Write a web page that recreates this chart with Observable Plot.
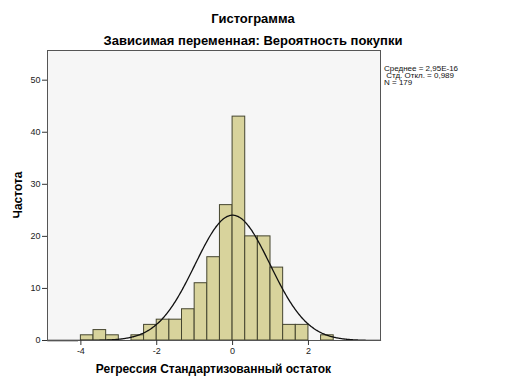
<!DOCTYPE html>
<html>
<head>
<meta charset="utf-8">
<script src="https://cdn.jsdelivr.net/npm/d3@7"></script>
<script src="https://cdn.jsdelivr.net/npm/@observablehq/plot@0.6"></script>
<style>
  html, body { margin: 0; padding: 0; background: #fff; }
  body { width: 507px; height: 386px; position: relative; overflow: hidden;
         font-family: "Liberation Sans", Arial, sans-serif; color: #000; }
  .t { position: absolute; white-space: nowrap; font-weight: bold; }
  #title { left: 253px; top: 17.5px; transform: translate(-50%, -50%); font-size: 13px; }
  #subtitle { left: 253px; top: 40px; transform: translate(-50%, -50%); font-size: 13px; }
  #ylab { left: 18px; top: 195px; transform: translate(-50%, -50%) rotate(-90deg); font-size: 12px; }
  #xlab { left: 213.5px; top: 369px; transform: translate(-50%, -50%); font-size: 12px; }
  #stats { position: absolute; left: 384px; top: 65px; font-size: 8px; line-height: 7.2px; color: #111; white-space: pre; }
  #chart { position: absolute; left: 0; top: 46px; }
</style>
</head>
<body>
<div id="title" class="t"></div>
<div id="subtitle" class="t"></div>
<div id="ylab" class="t"></div>
<div id="xlab" class="t"></div>
<div id="stats"></div>
<div id="chart"></div>
<script>
// ---- data ----
const titleText = "Гистограмма";
const subtitleText = "Зависимая переменная: Вероятность покупки";
const xLabel = "Регрессия Стандартизованный остаток";
const yLabel = "Частота";
const statLines = ["Среднее = 2,95E-16", " Стд. Откл. = 0,989", "N = 179"];

const binStart = -4;
const binWidth = 1 / 3;
const counts = [1, 2, 1, 0, 1, 3, 4, 4, 6, 11, 16, 26, 43, 20, 20, 14, 3, 3, 0, 1];
const xTicks = [-4, -2, 0, 2];
const yTicks = [0, 10, 20, 30, 40, 50];
const meanVal = 2.95e-16;
const sdVal = 0.989;
const nVal = 179;
const xDomain = [-4.88, 3.9];
const yDomain = [0, 55.7];

// ---- text ----
document.getElementById("title").textContent = titleText;
document.getElementById("subtitle").textContent = subtitleText;
document.getElementById("xlab").textContent = xLabel;
document.getElementById("ylab").textContent = yLabel;
document.getElementById("stats").textContent = statLines.join("\n");

// ---- derived tables ----
const bins = counts.map((c, i) => ({
  x1: binStart + i * binWidth,
  x2: binStart + (i + 1) * binWidth,
  count: c
})).filter(d => d.count > 0);

const curve = d3.range(xDomain[0], xDomain[1] + 1e-9, 0.02).map(x => ({
  x,
  y: nVal * binWidth * Math.exp(-0.5 * ((x - meanVal) / sdVal) ** 2) / (sdVal * Math.sqrt(2 * Math.PI))
}));

const chart = Plot.plot({
  width: 507,
  height: 340,
  marginTop: 4,
  marginLeft: 47,
  marginRight: 127,
  marginBottom: 46,
  style: { fontFamily: "'Liberation Sans', Arial, sans-serif", background: "transparent" },
  x: { domain: xDomain },
  y: { domain: yDomain },
  marks: [
    Plot.frame({ fill: "#f6f6f6", stroke: null }),
    Plot.rectY(bins, { x1: "x1", x2: "x2", y: "count", fill: "#d8d39c", stroke: "#45452f", strokeWidth: 1, inset: 0 }),
    Plot.line(curve, { x: "x", y: "y", stroke: "#111", strokeWidth: 1.3, curve: "basis" }),
    Plot.frame({ stroke: "#555", strokeWidth: 1 }),
    Plot.axisX({ ticks: xTicks, tickFormat: d => String(d), tickSize: 5, tickPadding: 2, fontSize: 9, label: null, color: "#222", stroke: "#333" }),
    Plot.axisY({ ticks: yTicks, tickFormat: d => String(d), tickSize: 5, tickPadding: 2, fontSize: 9, label: null, color: "#222", stroke: "#333" })
  ]
});
document.getElementById("chart").appendChild(chart);
</script>
</body>
</html>
